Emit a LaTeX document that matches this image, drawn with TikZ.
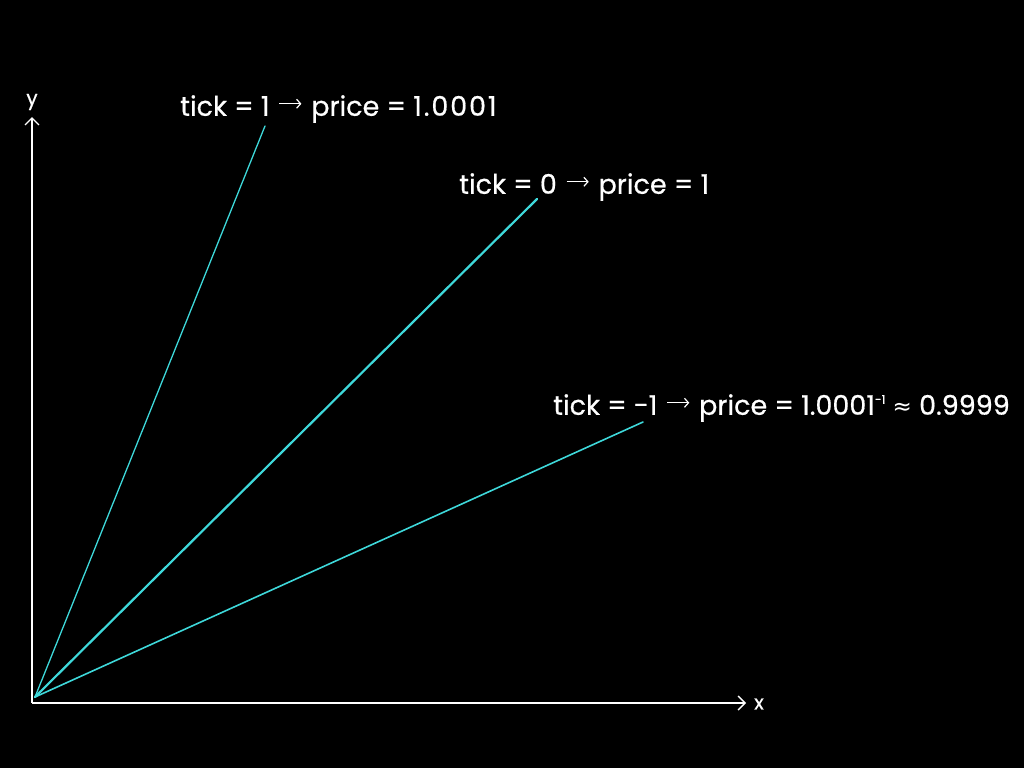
\documentclass[tikz,border=0pt]{standalone}
\usepackage{fontspec}
\setmainfont{Poppins}
\newfontfamily\lblfont{Poppins}[FakeBold=0.6]
\newfontfamily\widenum{Poppins}[FakeBold=0.6,LetterSpace=7]
\newfontfamily\symfont{DejaVu Sans}
\usetikzlibrary{arrows.meta}
\definecolor{tickcyan}{HTML}{3ED8DA}
\newcommand{\tkarrow}{\hspace{2pt}\tikz[baseline=0pt]{\draw[white, line width=1.3pt, -{Straight Barb[length=4pt,width=9pt,line width=1.2pt]}] (0pt,12pt) -- (22pt,12pt);}\hspace{2pt}}
\tikzset{
  axis/.style={white, line width=1.8pt, -{Straight Barb[length=7pt,width=14pt,line width=1.4pt]}},
  ray/.style={tickcyan, line cap=round},
  lbl/.style={white, anchor=west, inner sep=0pt, font=\lblfont\fontsize{27}{32}\selectfont},
  axlbl/.style={white, inner sep=0pt, font=\lblfont\fontsize{20}{24}\selectfont}
}
\begin{document}
\begin{tikzpicture}[x=1pt,y=-1pt]
\fill[black] (0,0) rectangle (1024,768);
\useasboundingbox (0,0) rectangle (1024,768);
\coordinate (o) at (32,703);
\coordinate (ytop) at (32,117);
\coordinate (xend) at (746,703);
\coordinate (src) at (35,697);
\coordinate (e1) at (265,126);
\coordinate (e0) at (537,199);
\coordinate (em) at (643,422);
\draw[axis] (o) -- (ytop);
\draw[axis] (o) -- (xend);
\node[axlbl] (ylab) at (32,102) {y};
\node[axlbl] (xlab) at (759,704) {x};
\draw[ray, line width=1.3pt] (src) -- (e1);
\draw[ray, line width=2.2pt] (src) -- (e0);
\draw[ray, line width=1.6pt] (src) -- (em);
\node[lbl] (l1) at (180,109) {tick = 1 \tkarrow{} price = {\widenum\fontsize{27}{32}\selectfont 1.0001}};
\node[lbl] (l0) at (459,187) {tick = 0 \tkarrow{} price = 1};
\node[lbl] (lm) at (553,408) {tick = -1 \tkarrow{} price = 1.0001\raisebox{11pt}{\fontsize{12}{14}\selectfont -1} {\symfont\fontsize{23}{26}\selectfont ≈} 0.9999};
\end{tikzpicture}
\end{document}
